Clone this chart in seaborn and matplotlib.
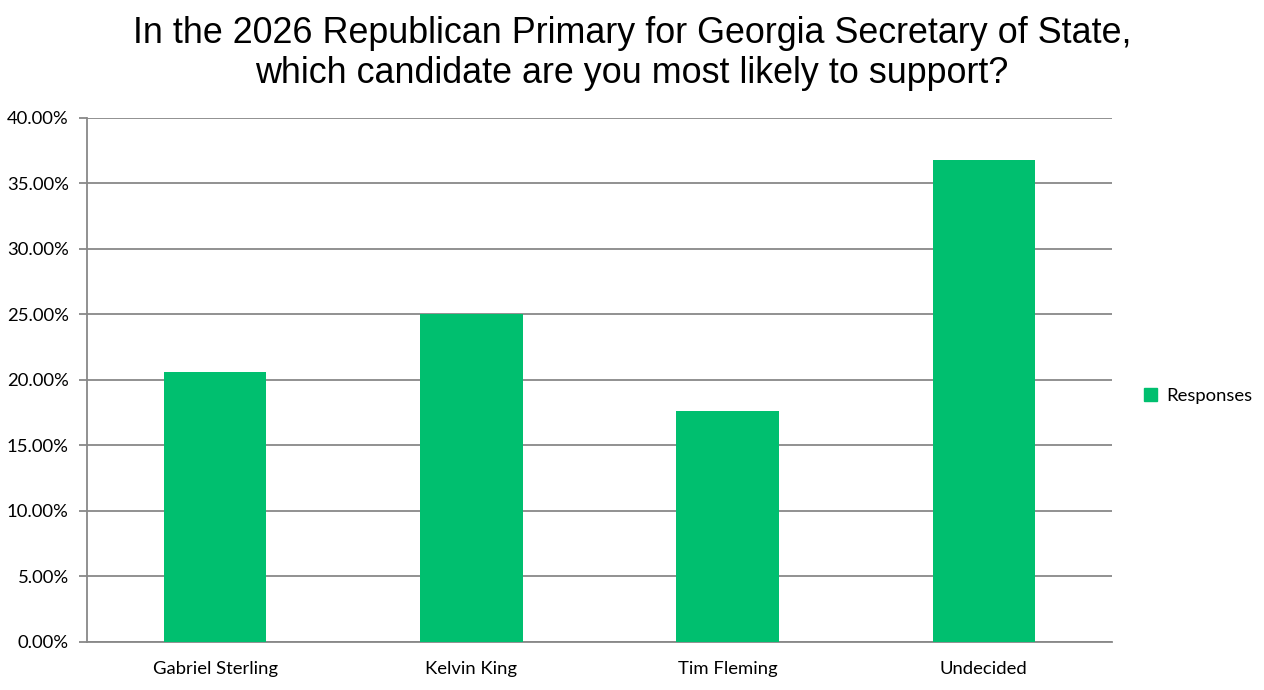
import numpy as np
import pandas as pd
import seaborn as sns
import matplotlib.pyplot as plt
from matplotlib.patches import Patch
from matplotlib.ticker import PercentFormatter

candidates = ['Gabriel Sterling', 'Kelvin King', 'Tim Fleming', 'Undecided']
responses = [20.59, 25.00, 17.65, 36.76]
y_ticks = [0, 5, 10, 15, 20, 25, 30, 35, 40]

dados = pd.DataFrame({'candidate': candidates, 'responses': responses})

sns.set_style('white')
plt.rcParams['font.family'] = ['Lato', 'DejaVu Sans']
plt.rcParams['text.color'] = 'black'
plt.rcParams['xtick.labelcolor'] = 'black'
plt.rcParams['ytick.labelcolor'] = 'black'

grid_color = '#888888'
bar_color = '#00BF6F'

fig = plt.figure(figsize=(12.64, 6.9), dpi=100)
ax = fig.add_axes([0.0688, 0.0696, 0.8109, 0.7594])

sns.barplot(data=dados, x='candidate', y='responses', color=bar_color,
            width=0.4, saturation=1, linewidth=0, ax=ax, zorder=3)

ax.set_ylim(0, 40)
ax.set_xlim(-0.5, len(candidates) - 0.5)
ax.set_yticks(y_ticks)
ax.yaxis.set_major_formatter(PercentFormatter(decimals=2))
ax.grid(axis='y', color=grid_color, linewidth=1.3, zorder=0)
ax.set_axisbelow(True)

for side in ['top', 'right']:
    ax.spines[side].set_visible(False)
for side in ['left', 'bottom']:
    ax.spines[side].set_color(grid_color)
    ax.spines[side].set_linewidth(1.3)

# category boundary ticks, excel style
ax.set_xticks(np.arange(-0.5, len(candidates)), minor=True)
ax.tick_params(axis='x', which='minor', length=6, color=grid_color, width=1.3)
ax.tick_params(axis='x', which='major', length=0, labelsize=13.3, pad=14)
ax.tick_params(axis='y', length=6, color=grid_color, width=1.3, labelsize=13.3, pad=7)
ax.tick_params(left=True, bottom=True)
ax.set_xlabel('')
ax.set_ylabel('')

fig.suptitle('In the 2026 Republican Primary for Georgia Secretary of State,\n'
             'which candidate are you most likely to support?',
             fontsize=25.8, family=['Liberation Sans', 'DejaVu Sans'],
             color='black', y=0.977, linespacing=1.2)

ax.legend(handles=[Patch(color=bar_color, label='Responses')],
          loc='center left', bbox_to_anchor=(1.015, 0.47), frameon=False,
          fontsize=13.3, handlelength=0.7, handleheight=0.7, handletextpad=0.5)

plt.savefig('out.png', dpi=100)
